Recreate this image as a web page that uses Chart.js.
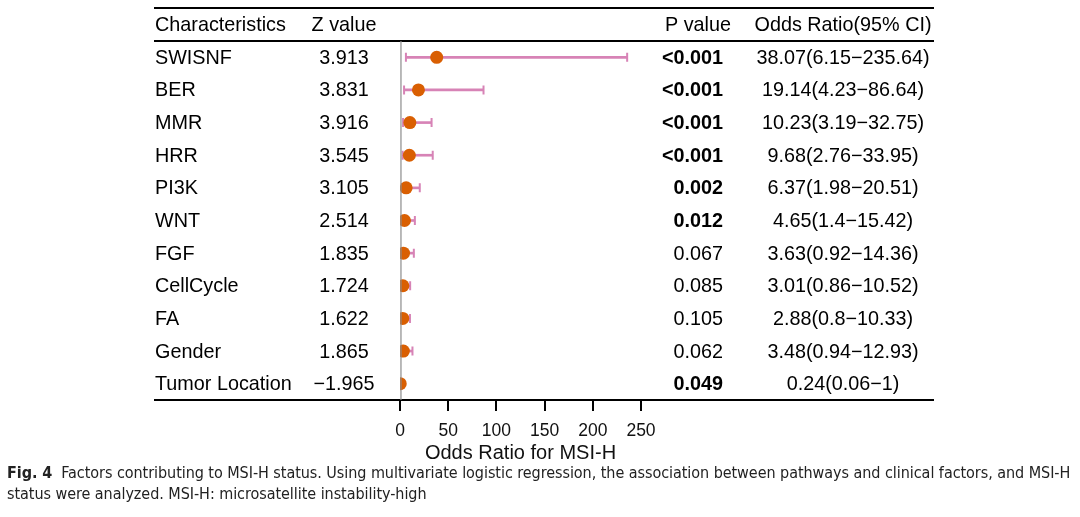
<!DOCTYPE html>
<html>
<head>
<meta charset="utf-8">
<script src="https://cdn.jsdelivr.net/npm/chart.js@4.4.1/dist/chart.umd.min.js"></script>
<style>
  html, body { margin: 0; padding: 0; background: #fff; }
  #wrap { position: relative; width: 1080px; height: 517px; }
  #caption {
    position: absolute; left: 7px; top: 462px; width: 1072px;
    font-family: "DejaVu Sans Condensed", "Liberation Sans Narrow", sans-serif;
    font-size: 16px; line-height: 21px; color: #222; letter-spacing: -0.05px;
  }
  #caption b { font-weight: bold; }
</style>
</head>
<body>
<div id="wrap">
  <canvas id="forest" width="1080" height="517"></canvas>
  <div id="caption"><b>Fig. 4</b>&nbsp; Factors contributing to MSI-H status. Using multivariate logistic regression, the association between pathways and clinical factors, and MSI-H status were analyzed. MSI-H: microsatellite instability-high</div>
</div>
<script>
// data
const characteristics = ['SWISNF', 'BER', 'MMR', 'HRR', 'PI3K', 'WNT', 'FGF', 'CellCycle', 'FA', 'Gender', 'Tumor Location'];
const zValues = [3.913, 3.831, 3.916, 3.545, 3.105, 2.514, 1.835, 1.724, 1.622, 1.865, -1.965];
const pValues = ['<0.001', '<0.001', '<0.001', '<0.001', '0.002', '0.012', '0.067', '0.085', '0.105', '0.062', '0.049'];
const oddsRatio = [38.07, 19.14, 10.23, 9.68, 6.37, 4.65, 3.63, 3.01, 2.88, 3.48, 0.24];
const ciLow = [6.15, 4.23, 3.19, 2.76, 1.98, 1.4, 0.92, 0.86, 0.8, 0.94, 0.06];
const ciHigh = [235.64, 86.64, 32.75, 33.95, 20.51, 15.42, 14.36, 10.52, 10.33, 12.93, 1];
const xTicks = [0, 50, 100, 150, 200, 250];

const FONT = '"Liberation Sans", Arial, Helvetica, sans-serif';
const SIZE = '19.8px ';
const PINK = '#d783b6';
const ORANGE = '#d95f02';

const minus = s => String(s).replace('-', '\u2212');

// table text + rules around the plot
const tablePlugin = {
  id: 'tablePlugin',
  afterDraw(chart) {
    const ctx = chart.ctx;
    const y = chart.scales.y;
    const x = chart.scales.x;
    const area = chart.chartArea;
    ctx.save();

    // horizontal rules
    ctx.strokeStyle = '#000';
    ctx.lineWidth = 2;
    [8, area.top, area.bottom].forEach(ly => {
      ctx.beginPath();
      ctx.moveTo(154, ly);
      ctx.lineTo(934, ly);
      ctx.stroke();
    });

    // x tick marks
    ctx.strokeStyle = '#000';
    ctx.lineWidth = 2;
    xTicks.forEach(v => {
      const tx = Math.round(x.getPixelForValue(v));
      ctx.beginPath();
      ctx.moveTo(tx, area.bottom);
      ctx.lineTo(tx, area.bottom + 11);
      ctx.stroke();
    });

    // reference line at OR = 1
    ctx.strokeStyle = '#8c8c8c';
    ctx.lineWidth = 1.2;
    const rx = x.getPixelForValue(1);
    ctx.beginPath();
    ctx.moveTo(rx, area.top);
    ctx.lineTo(rx, area.bottom);
    ctx.stroke();

    ctx.fillStyle = '#000';
    ctx.textBaseline = 'middle';
    ctx.font = SIZE + FONT;
    const headY = 26;
    ctx.textAlign = 'left';
    ctx.fillText('Characteristics', 155, headY);
    ctx.textAlign = 'center';
    ctx.fillText('Z value', 344, headY);
    ctx.fillText('P value', 698, headY);
    ctx.fillText('Odds Ratio(95% CI)', 843, headY);

    characteristics.forEach((name, i) => {
      const py = y.getPixelForValue(i) + 1;
      ctx.font = SIZE + FONT;
      ctx.textAlign = 'left';
      ctx.fillText(name, 155, py);
      ctx.textAlign = 'center';
      ctx.fillText(minus(zValues[i].toFixed(3)), 344, py);
      ctx.fillText(oddsRatio[i] + '(' + ciLow[i] + '\u2212' + ciHigh[i] + ')', 843, py);
      const p = pValues[i];
      const sig = p.startsWith('<') || parseFloat(p) < 0.05;
      ctx.font = (sig ? 'bold ' : '') + SIZE + FONT;
      ctx.textAlign = 'right';
      ctx.fillText(p, 723, py);
    });
    ctx.restore();
  }
};

new Chart(document.getElementById('forest'), {
  type: 'bar',
  data: {
    labels: characteristics,
    datasets: [
      {
        label: 'CI',
        data: characteristics.map((c, i) => [ciLow[i], ciHigh[i]]),
        backgroundColor: PINK,
        barThickness: 2,
        order: 3
      },
      {
        type: 'line',
        label: 'low cap',
        data: characteristics.map((c, i) => ({ x: ciLow[i], y: c })),
        showLine: false,
        pointStyle: 'line',
        rotation: 90,
        radius: 4.5,
        borderColor: PINK,
        borderWidth: 2,
        order: 2
      },
      {
        type: 'line',
        label: 'high cap',
        data: characteristics.map((c, i) => ({ x: ciHigh[i], y: c })),
        showLine: false,
        pointStyle: 'line',
        rotation: 90,
        radius: 4.5,
        borderColor: PINK,
        borderWidth: 2,
        order: 2
      },
      {
        type: 'line',
        label: 'OR',
        data: characteristics.map((c, i) => ({ x: oddsRatio[i], y: c })),
        showLine: false,
        pointStyle: 'circle',
        radius: 6.5,
        backgroundColor: ORANGE,
        borderColor: ORANGE,
        borderWidth: 0,
        order: 1
      }
    ]
  },
  options: {
    indexAxis: 'y',
    responsive: false,
    animation: false,
    layout: { padding: { left: 400, right: 439, top: 41, bottom: 52 } },
    plugins: {
      legend: { display: false },
      tooltip: { enabled: false }
    },
    scales: {
      y: {
        type: 'category',
        display: false,
        offset: true
      },
      x: {
        type: 'linear',
        min: 0,
        max: 250,
        afterBuildTicks: scale => { scale.ticks = xTicks.map(v => ({ value: v })); },
        afterFit: scale => { scale.height = 65; },
        border: { display: false },
        grid: {
          display: false,
          tickLength: 9
        },
        ticks: {
          padding: 12,
          maxRotation: 0,
          color: '#111',
          font: { family: FONT, size: 17.5 }
        },
        title: {
          display: true,
          text: 'Odds Ratio for MSI-H',
          color: '#111',
          padding: 0,
          font: { family: FONT, size: 20 }
        }
      }
    }
  },
  plugins: [tablePlugin]
});
</script>
</body>
</html>
